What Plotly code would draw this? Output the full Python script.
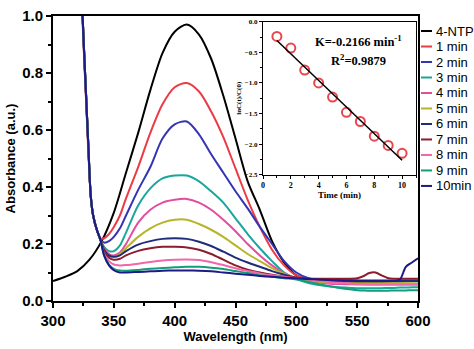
import numpy as np
import plotly.graph_objects as go

# ---------------- data ----------------
wl_ntp = [300, 310, 320, 330, 340, 350, 360, 370, 380, 390, 400, 410, 420, 430, 440,
          450, 460, 470, 480, 490, 500, 510, 520, 530, 540, 550, 560, 570, 580, 590, 600]
abs_ntp = [0.07, 0.085, 0.105, 0.145, 0.21, 0.31, 0.45, 0.59, 0.74, 0.87, 0.945, 0.97,
           0.935, 0.85, 0.72, 0.57, 0.42, 0.32, 0.21, 0.135, 0.09, 0.075, 0.07, 0.068,
           0.067, 0.066, 0.066, 0.067, 0.068, 0.069, 0.07]

wl = [323, 325, 327, 329, 331, 333, 336, 339, 342, 346, 350, 355, 360, 370, 380, 390,
      400, 410, 420, 430, 440, 450, 460, 470, 480, 490, 500, 510, 520, 530, 540, 550,
      555, 560, 565, 570, 575, 580, 585, 590, 595, 600]

abs_1min = [1.12, 0.91, 0.72, 0.53, 0.37, 0.30, 0.25, 0.22,
            0.22, 0.235, 0.26, 0.30, 0.36,
            0.47, 0.59, 0.69, 0.75, 0.765, 0.735, 0.665, 0.575, 0.465, 0.355, 0.26, 0.18,
            0.125, 0.09, 0.078, 0.074, 0.073, 0.073, 0.073,
            0.073, 0.073, 0.073, 0.073, 0.073, 0.073, 0.073, 0.073, 0.073, 0.073]
abs_2min = [1.14, 0.92, 0.73, 0.54, 0.37, 0.30, 0.25, 0.215,
            0.205, 0.21, 0.225, 0.255, 0.30,
            0.39, 0.47, 0.57, 0.62, 0.63, 0.585, 0.515, 0.45, 0.385, 0.325, 0.26, 0.20,
            0.14, 0.10, 0.08, 0.072, 0.07, 0.07, 0.07,
            0.07, 0.07, 0.07, 0.07, 0.07, 0.07, 0.07, 0.07, 0.07, 0.07]
abs_3min = [1.15, 0.93, 0.74, 0.55, 0.37, 0.30, 0.25, 0.215,
            0.19, 0.175, 0.175, 0.195, 0.24,
            0.335, 0.395, 0.43, 0.44, 0.44, 0.42, 0.385, 0.345, 0.29, 0.235, 0.185, 0.14,
            0.10, 0.078, 0.063, 0.055, 0.05, 0.047, 0.045,
            0.045, 0.045, 0.045, 0.045, 0.046, 0.046, 0.047, 0.047, 0.048, 0.048]
abs_4min = [1.15, 0.93, 0.74, 0.55, 0.37, 0.30, 0.25, 0.215,
            0.185, 0.165, 0.16, 0.17, 0.20,
            0.275, 0.32, 0.345, 0.355, 0.358, 0.345, 0.32, 0.285, 0.245, 0.20, 0.16, 0.125,
            0.097, 0.08, 0.07, 0.064, 0.06, 0.059, 0.058,
            0.058, 0.058, 0.058, 0.058, 0.058, 0.058, 0.058, 0.058, 0.058, 0.058]
abs_5min = [1.15, 0.93, 0.74, 0.55, 0.37, 0.30, 0.25, 0.215,
            0.18, 0.16, 0.155, 0.165, 0.185,
            0.225, 0.255, 0.275, 0.285, 0.285, 0.27, 0.25, 0.225, 0.195, 0.165, 0.14, 0.115,
            0.095, 0.08, 0.072, 0.067, 0.064, 0.063, 0.062,
            0.062, 0.062, 0.062, 0.062, 0.062, 0.062, 0.062, 0.062, 0.062, 0.062]
abs_6min = [1.15, 0.93, 0.74, 0.55, 0.37, 0.30, 0.25, 0.215,
            0.18, 0.16, 0.155, 0.16, 0.175,
            0.198, 0.21, 0.218, 0.22, 0.218, 0.208, 0.193, 0.173, 0.152, 0.135, 0.12, 0.105,
            0.092, 0.082, 0.076, 0.073, 0.071, 0.07, 0.07,
            0.07, 0.07, 0.07, 0.07, 0.07, 0.07, 0.07, 0.07, 0.07, 0.07]
abs_7min = [1.15, 0.93, 0.74, 0.55, 0.37, 0.30, 0.25, 0.215,
            0.175, 0.152, 0.145, 0.148, 0.16,
            0.176, 0.185, 0.19, 0.19, 0.188, 0.18, 0.165, 0.145, 0.125, 0.11, 0.10, 0.092,
            0.086, 0.082, 0.079, 0.078, 0.078, 0.078, 0.08,
            0.087, 0.098, 0.10, 0.09, 0.081, 0.078, 0.078, 0.078, 0.078, 0.078]
abs_8min = [1.15, 0.93, 0.74, 0.55, 0.37, 0.30, 0.25, 0.215,
            0.165, 0.14, 0.128, 0.125, 0.126,
            0.131, 0.137, 0.142, 0.145, 0.146, 0.144, 0.136, 0.126, 0.115, 0.105, 0.097, 0.09,
            0.085, 0.08, 0.075, 0.07, 0.066, 0.063, 0.06,
            0.059, 0.058, 0.058, 0.058, 0.058, 0.058, 0.058, 0.058, 0.058, 0.058]
abs_9min = [1.15, 0.93, 0.74, 0.55, 0.37, 0.30, 0.25, 0.215,
            0.16, 0.128, 0.113, 0.107, 0.106,
            0.109, 0.113, 0.116, 0.118, 0.12, 0.12, 0.117, 0.112, 0.105, 0.098, 0.09, 0.085,
            0.08, 0.075, 0.067, 0.058, 0.05, 0.043, 0.038,
            0.037, 0.036, 0.036, 0.036, 0.036, 0.037, 0.037, 0.037, 0.038, 0.038]
abs_10min = [1.15, 0.93, 0.74, 0.55, 0.37, 0.30, 0.25, 0.215,
             0.16, 0.125, 0.108, 0.10, 0.10,
             0.102, 0.104, 0.106, 0.107, 0.107, 0.106, 0.104, 0.10, 0.096, 0.092, 0.088, 0.085,
             0.082, 0.08, 0.077, 0.075, 0.073, 0.072, 0.071,
             0.07, 0.07, 0.07, 0.07, 0.07, 0.07, 0.074, 0.12, 0.135, 0.15]

series_names = ["4-NTP", "1 min", "2 min", "3 min", "4 min", "5 min",
                "6 min", "7 min", "8 min", "9 min", "10min"]
series_vals = [abs_ntp, abs_1min, abs_2min, abs_3min, abs_4min, abs_5min,
               abs_6min, abs_7min, abs_8min, abs_9min, abs_10min]
colors = ["#000000", "#ec3b45", "#3434b4", "#19a79c", "#e34d9f", "#b8b42a",
          "#1f2c78", "#8c1d2e", "#f266aa", "#149d78", "#1b1a86"]

time_min = [1, 2, 3, 4, 5, 6, 7, 8, 9, 10]
ln_ratio = [-0.24, -0.43, -0.79, -1.00, -1.23, -1.48, -1.63, -1.87, -2.02, -2.15]

# ---------------- layout helpers ----------------
W, H = 474, 349
PL, PR, PT, PB = 53, 418, 7, 305


def fx(px):
    return (px - PL) / (PR - PL)


def fy(py):
    return (PB - py) / (PB - PT)


SANS = "Liberation Sans, Arial, sans-serif"
SERIF = "Liberation Serif, Times New Roman, serif"

fig = go.Figure()

for name, vals, col in zip(series_names, series_vals, colors):
    xs = wl_ntp if name == "4-NTP" else wl
    assert len(xs) == len(vals), name
    fig.add_trace(go.Scatter(x=xs, y=vals, mode="lines", name=name,
                             line=dict(color=col, width=2, shape="spline", smoothing=0.8),
                             xaxis="x", yaxis="y", showlegend=False))

# inset
fig.add_trace(go.Scatter(x=time_min, y=ln_ratio, mode="markers",
                         marker=dict(symbol="circle-open", size=9, color="#e9474f",
                                     line=dict(width=2, color="#e9474f")),
                         xaxis="x2", yaxis="y2", showlegend=False))
slope, intercept = np.polyfit(time_min, ln_ratio, 1)
fit_t = [min(time_min), max(time_min)]
fit_y = [slope * t + intercept for t in fit_t]
fig.add_trace(go.Scatter(x=fit_t, y=fit_y, mode="lines",
                         line=dict(color="black", width=1.5),
                         xaxis="x2", yaxis="y2", showlegend=False))

annotations = []
shapes = []
# manual legend
leg_y0, leg_dy = 22.7, 16.2
for i, (name, col) in enumerate(zip(series_names, colors)):
    py = leg_y0 + i * leg_dy
    shapes.append(dict(type="line", xref="paper", yref="paper",
                       x0=fx(421), x1=fx(432), y0=fy(py), y1=fy(py),
                       line=dict(color=col, width=2)))
    annotations.append(dict(text=name, xref="paper", yref="paper", x=fx(434), y=fy(py),
                            xanchor="left", yanchor="middle", showarrow=False,
                            font=dict(family=SANS, size=13, color="black")))

annotations.append(dict(text="K=-0.2166 min<sup>-1</sup>", xref="paper", yref="paper",
                        x=fx(358), y=fy(33), xanchor="center", yanchor="middle",
                        showarrow=False,
                        font=dict(family=SERIF, size=12.5, color="black", weight="bold")))
annotations.append(dict(text="R<sup>2</sup>=0.9879", xref="paper", yref="paper",
                        x=fx(358), y=fy(53), xanchor="center", yanchor="middle",
                        showarrow=False,
                        font=dict(family=SERIF, size=12.5, color="black", weight="bold")))

fig.update_layout(
    width=W, height=H,
    margin=dict(l=PL, r=W - PR, t=PT, b=H - PB, pad=0),
    paper_bgcolor="white", plot_bgcolor="white",
    showlegend=False,
    annotations=annotations,
    shapes=shapes,
    xaxis=dict(domain=[0, 1], range=[300, 600], tick0=300, dtick=50,
               ticks="outside", ticklen=5, tickwidth=2, tickcolor="black",
               linewidth=2, linecolor="black", mirror=True,
               showgrid=False, zeroline=False,
               minor=dict(dtick=25, ticks="outside", ticklen=3, tickwidth=1.5, tickcolor="black"),
               tickfont=dict(family=SANS, size=15, color="black", weight="bold"),
               title=dict(text="Wavelength (nm)", standoff=4,
                          font=dict(family=SANS, size=13, color="black", weight="bold"))),
    yaxis=dict(domain=[0, 1], range=[0, 1], tick0=0, dtick=0.2, tickformat=".1f",
               ticks="outside", ticklen=5, tickwidth=2, tickcolor="black",
               linewidth=2, linecolor="black", mirror=True,
               showgrid=False, zeroline=False,
               minor=dict(dtick=0.1, ticks="outside", ticklen=3, tickwidth=1.5, tickcolor="black"),
               tickfont=dict(family=SANS, size=15, color="black", weight="bold"),
               title=dict(text="Absorbance (a.u.)", standoff=4,
                          font=dict(family=SANS, size=13, color="black", weight="bold"))),
    xaxis2=dict(domain=[fx(263), fx(416)], anchor="y2", range=[0, 11], tick0=0, dtick=2,
                ticks="outside", ticklen=3, tickwidth=1, tickcolor="black",
                linewidth=1.2, linecolor="black", mirror=True,
                showgrid=False, zeroline=False,
                minor=dict(dtick=1, ticks="outside", ticklen=2, tickwidth=1, tickcolor="black"),
                tickfont=dict(family=SERIF, size=8, color="black", weight="bold"),
                title=dict(text="Time (min)", standoff=2,
                           font=dict(family=SERIF, size=9, color="black", weight="bold"))),
    yaxis2=dict(domain=[fy(173), fy(13)], anchor="x2", range=[-2.5, 0], tick0=0, dtick=0.5,
                tickformat=".1f",
                ticks="outside", ticklen=3, tickwidth=1, tickcolor="black",
                linewidth=1.2, linecolor="black", mirror=True,
                showgrid=False, zeroline=False,
                minor=dict(dtick=0.25, ticks="outside", ticklen=2, tickwidth=1, tickcolor="black"),
                tickfont=dict(family=SERIF, size=7, color="black", weight="bold"),
                title=dict(text="lnC(t)/C(0)", standoff=2,
                           font=dict(family=SERIF, size=7, color="black", weight="bold"))),
)

fig.write_html("out.html")
